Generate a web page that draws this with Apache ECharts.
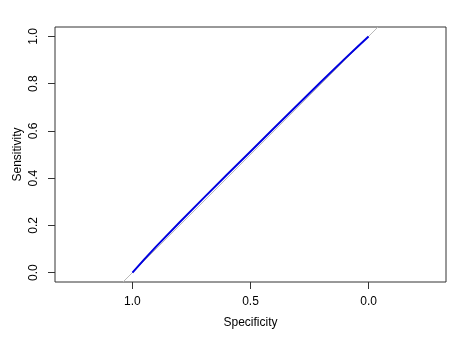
<!DOCTYPE html>
<html>
<head>
<meta charset="utf-8">
<script src="https://cdn.jsdelivr.net/npm/echarts@6/dist/echarts.min.js"></script>
<style>html,body{margin:0;padding:0;background:#fff}#c{width:474px;height:338px}</style>
</head>
<body>
<div id="c"></div>
<script>
// ROC curve values
var specificity = [1.0, 0.95, 0.9, 0.8, 0.7, 0.6, 0.5, 0.4, 0.3, 0.2, 0.1, 0.05, 0.0];
var sensitivity = [0.0, 0.056, 0.11, 0.213, 0.314, 0.414, 0.513, 0.612, 0.711, 0.809, 0.906, 0.953, 1.0];
// identity (chance) line, clipped to the plot region
var diagSpec = [1.04, -0.04];
var diagSens = [-0.04, 1.04];
var xTicks = [0, 0.5, 1];
var yTicks = [0, 0.2, 0.4, 0.6, 0.8, 1];

var roc = specificity.map(function (s, i) { return [s, sensitivity[i]]; });
var diag = diagSpec.map(function (s, i) { return [s, diagSens[i]]; });

var font = 'Liberation Sans, Arial, sans-serif';
var chart = echarts.init(document.getElementById('c'), null, {renderer: 'canvas'});
chart.setOption({
  animation: false,
  grid: {left: 55, right: 28, top: 27, bottom: 56, show: true, borderColor: '#333', borderWidth: 1, backgroundColor: 'transparent'},
  xAxis: {
    type: 'value', inverse: true, min: -0.328, max: 1.328,
    name: 'Specificity', nameLocation: 'middle', nameGap: 35,
    nameTextStyle: {fontFamily: font, fontSize: 12, color: '#000'},
    axisLine: {show: false, onZero: false},
    splitLine: {show: false},
    axisTick: {show: true, customValues: xTicks, length: 7, inside: false, lineStyle: {color: '#333'}},
    axisLabel: {customValues: xTicks, margin: 14, fontFamily: font, fontSize: 12, color: '#000',
      formatter: function (v) { return v.toFixed(1); }}
  },
  yAxis: {
    type: 'value', min: -0.04, max: 1.04,
    name: 'Sensitivity', nameLocation: 'middle', nameGap: 31, nameMoveOverlap: false,
    nameTextStyle: {fontFamily: font, fontSize: 12, color: '#000'},
    axisLine: {show: false, onZero: false},
    splitLine: {show: false},
    axisTick: {show: true, customValues: yTicks, length: 7, inside: false, lineStyle: {color: '#333'}},
    axisLabel: {customValues: yTicks, rotate: 90, margin: 15, fontFamily: font, fontSize: 12, color: '#000',
      formatter: function (v) { return v.toFixed(1); }}
  },
  series: [
    {type: 'line', data: diag, showSymbol: false, symbol: 'none', lineStyle: {color: '#b8b8b8', width: 1}, z: 1},
    {type: 'line', data: roc, showSymbol: false, symbol: 'none', smooth: false, lineStyle: {color: '#0000e0', width: 2}, z: 2}
  ]
});
</script>
</body>
</html>
